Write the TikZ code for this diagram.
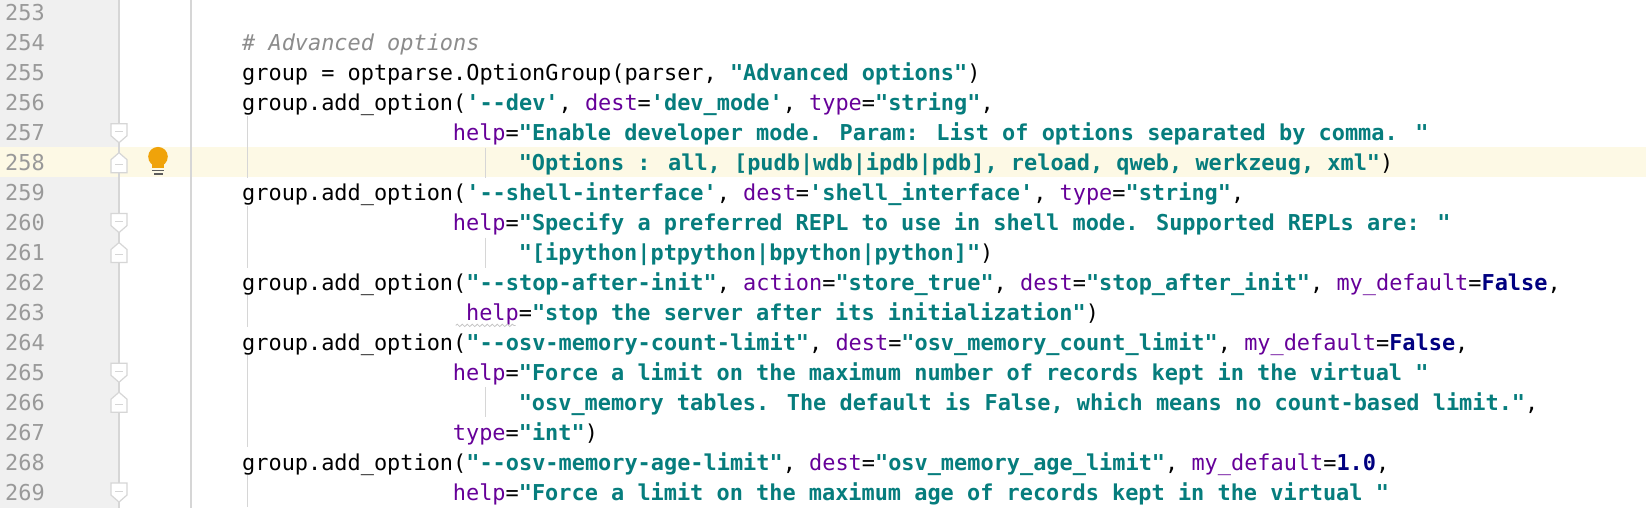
\documentclass[tikz,border=0pt]{standalone}
\usepackage{fontspec}
\newfontfamily\code{DejaVu Sans Mono}[Ligatures=TeXOff]
\newfontfamily\lnum{DejaVu Sans}
\usetikzlibrary{decorations.pathmorphing}
\definecolor{gutterbg}{HTML}{F0F0F0}
\definecolor{guide}{HTML}{D6D6D6}
\definecolor{hl}{HTML}{FDF9E5}
\definecolor{kwc}{HTML}{660099}
\definecolor{stc}{HTML}{067D7D}
\definecolor{kcc}{HTML}{000080}
\definecolor{cmc}{HTML}{8C8C8C}
\definecolor{numc}{HTML}{999999}
\definecolor{bulb}{HTML}{F0A30A}
\newcommand\kw[1]{\textcolor{kwc}{#1}}
\newcommand\st[1]{\textcolor{stc}{\bfseries #1}}
\newcommand\kc[1]{\textcolor{kcc}{\bfseries #1}}
\newcommand\cm[1]{\textcolor{cmc}{\itshape #1}}
\tikzset{
  codeline/.style={anchor=base west,inner sep=0pt,font=\code\fontsize{21.9}{24}\selectfont},
  numline/.style={anchor=base east,inner sep=0pt,text=numc,font=\code\fontsize{21.9}{24}\selectfont},
  fold/.style={draw=guide,fill=white,line width=1.2pt},
}
\newcommand\Y[1]{\fpeval{13+(#1-253)*29.94}}
\newcommand\X[1]{\fpeval{242+#1*13.17}}
\begin{document}
\begin{tikzpicture}[x=1pt,y=-1pt]
\useasboundingbox (0,0) rectangle (1646,508);
\fill[white] (0,0) rectangle (1646,508);
\fill[gutterbg] (0,0) rectangle (119,508);
\fill[hl] (0,147) rectangle (1646,176.5);
\draw[guide,line width=1.3pt] (119,0) -- (119,508);
\draw[guide,line width=1.3pt] (191,0) -- (191,508);
% indent guides
\foreach \a/\b in {256/258,259/261,262/263,264/267,268/269}{
  \draw[guide,line width=1pt] (247,{\Y{\a}+13}) -- (247,{\Y{\b}+15});}
\foreach \a in {258,261,266}{
  \draw[guide,line width=1pt] (485,{\Y{\a}-15}) -- (485,{\Y{\a}+15});}
% line numbers
\foreach \n in {253,...,269}{
  \node[numline] (n\n) at (45,{\Y{\n}+8}) {\n};}
% fold markers
\foreach \n in {257,260,265,269}{
  \draw[fold] (111,{\Y{\n}-9}) -- (127,{\Y{\n}-9}) -- (127,{\Y{\n}+3}) -- (119,{\Y{\n}+10}) -- (111,{\Y{\n}+3}) -- cycle;
  \draw[guide,line width=1pt] (115,{\Y{\n}-1}) -- (123,{\Y{\n}-1});}
\foreach \n in {258,261,266}{
  \draw[fold] (111,{\Y{\n}+10}) -- (127,{\Y{\n}+10}) -- (127,{\Y{\n}-3}) -- (119,{\Y{\n}-10}) -- (111,{\Y{\n}-3}) -- cycle;
  \draw[guide,line width=1pt] (115,{\Y{\n}+2}) -- (123,{\Y{\n}+2});}
% bulb
\fill[bulb] (158,{\Y{258}-6}) circle (9.8);
\fill[bulb] (152,{\Y{258}-2}) rectangle (164,{\Y{258}+5});
\fill[numc!60!black] (152,{\Y{258}+7}) rectangle (164,{\Y{258}+8.6});
\fill[numc!60!black] (153.5,{\Y{258}+10.3}) rectangle (162.5,{\Y{258}+11.9});
% code
\node[codeline] (c254) at (\X{0},{\Y{254}+8}) {\cm{\# Advanced options}};
\node[codeline] (c255) at (\X{0},{\Y{255}+8}) {group = optparse.OptionGroup(parser, \st{"Advanced options"})};
\node[codeline] (c256) at (\X{0},{\Y{256}+8}) {group.add\_option(\st{'--dev'}, \kw{dest}=\st{'dev\_mode'}, \kw{type}=\st{"string"},};
\node[codeline] (c257) at (\X{16},{\Y{257}+8}) {\kw{help}=\st{"Enable developer mode. Param: List of options separated by comma. "}};
\node[codeline] (c258) at (\X{21},{\Y{258}+8}) {\st{"Options : all, [pudb|wdb|ipdb|pdb], reload, qweb, werkzeug, xml"})};
\node[codeline] (c259) at (\X{0},{\Y{259}+8}) {group.add\_option(\st{'--shell-interface'}, \kw{dest}=\st{'shell\_interface'}, \kw{type}=\st{"string"},};
\node[codeline] (c260) at (\X{16},{\Y{260}+8}) {\kw{help}=\st{"Specify a preferred REPL to use in shell mode. Supported REPLs are: "}};
\node[codeline] (c261) at (\X{21},{\Y{261}+8}) {\st{"[ipython|ptpython|bpython|python]"})};
\node[codeline] (c262) at (\X{0},{\Y{262}+8}) {group.add\_option(\st{"--stop-after-init"}, \kw{action}=\st{"store\_true"}, \kw{dest}=\st{"stop\_after\_init"}, \kw{my\_default}=\kc{False},};
\node[codeline] (c263) at (\X{17},{\Y{263}+8}) {\kw{help}=\st{"stop the server after its initialization"})};
\node[codeline] (c264) at (\X{0},{\Y{264}+8}) {group.add\_option(\st{"--osv-memory-count-limit"}, \kw{dest}=\st{"osv\_memory\_count\_limit"}, \kw{my\_default}=\kc{False},};
\node[codeline] (c265) at (\X{16},{\Y{265}+8}) {\kw{help}=\st{"Force a limit on the maximum number of records kept in the virtual "}};
\node[codeline] (c266) at (\X{21},{\Y{266}+8}) {\st{"osv\_memory tables. The default is False, which means no count-based limit."},};
\node[codeline] (c267) at (\X{16},{\Y{267}+8}) {\kw{type}=\st{"int"})};
\node[codeline] (c268) at (\X{0},{\Y{268}+8}) {group.add\_option(\st{"--osv-memory-age-limit"}, \kw{dest}=\st{"osv\_memory\_age\_limit"}, \kw{my\_default}=\kc{1.0},};
\node[codeline] (c269) at (\X{16},{\Y{269}+8}) {\kw{help}=\st{"Force a limit on the maximum age of records kept in the virtual "}};
% wavy underline
\draw[guide!80!gray,line width=0.8pt,decorate,decoration={snake,amplitude=1.2pt,segment length=5pt}] (\X{16}+3,{\Y{263}+13}) -- (\X{21}-3,{\Y{263}+13});
\end{tikzpicture}
\end{document}
